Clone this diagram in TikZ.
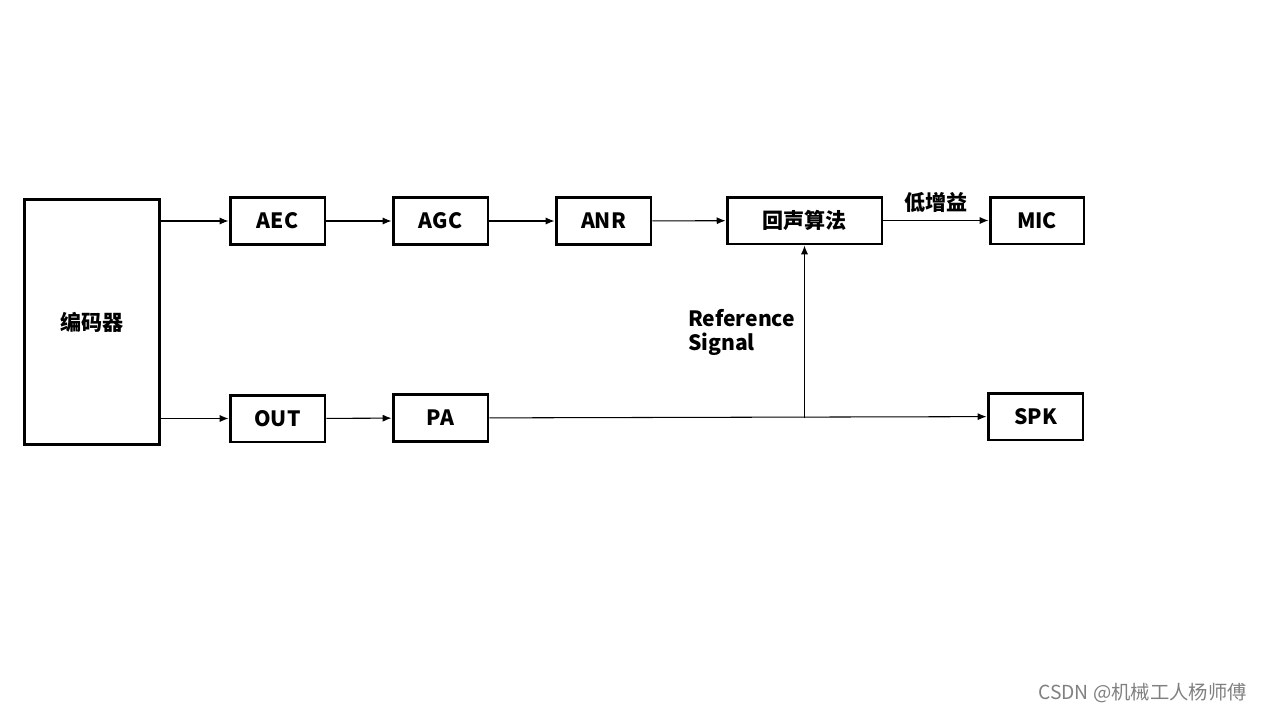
\documentclass[tikz,border=0pt]{standalone}
\usepackage{fontspec}
\setmainfont{Noto Sans CJK SC}
\usetikzlibrary{arrows.meta}
\tikzset{%
  >={Latex[length=5pt,width=4pt]},
  blk/.style={draw,line width=1.7pt,minimum height=0.94cm,inner sep=0pt,
    font=\bfseries\fontsize{12}{14}\selectfont},
  link/.style={->,line width=0.6pt},
  lbl/.style={font=\bfseries\fontsize{12}{14}\selectfont,inner sep=1pt}
}
\begin{document}
\begin{tikzpicture}[x=0.02cm,y=-0.02cm]
\useasboundingbox (0,0) rectangle (1268,714);
%% blocks
\node[blk,minimum width=2.72cm,minimum height=4.92cm] (codec) at (92,322) {编码器};
\node[blk,minimum width=1.9cm] (aec) at (277.5,221) {AEC};
\node[blk,minimum width=1.9cm] (agc) at (440.5,221) {AGC};
\node[blk,minimum width=1.9cm] (anr) at (603.5,221) {ANR};
\node[blk,minimum width=3.1cm] (echo) at (804.5,220.5) {回声算法};
\node[blk,minimum width=1.88cm] (mic) at (1037,220.5) {MIC};
\node[blk,minimum width=1.9cm] (out) at (277.5,418.5) {OUT};
\node[blk,minimum width=1.9cm] (pa) at (440.5,418) {PA};
\node[blk,minimum width=1.9cm] (spk) at (1035.5,416.5) {SPK};
\coordinate (j) at (804.5,418);
%% connectors
\draw[link] (codec.east |- aec) -- (aec);
\draw[link] (aec) -- (agc);
\draw[link] (agc) -- (anr);
\draw[link] (anr) -- (echo);
\draw[link] (echo) -- node[lbl,above=3pt] (gain) {低增益} (mic);
\draw[link] (codec.east |- out) -- (out);
\draw[link] (out) -- (pa);
\draw[link] (pa) -- (spk);
\draw[link] (j) -- (echo);
\node[lbl,align=left,anchor=north west] (ref) at (686,307) {Reference\\Signal};
\node[font=\fontsize{11}{13}\selectfont,text=gray,anchor=east] (wm) at (1253,693) {CSDN @机械工人杨师傅};
\end{tikzpicture}
\end{document}
